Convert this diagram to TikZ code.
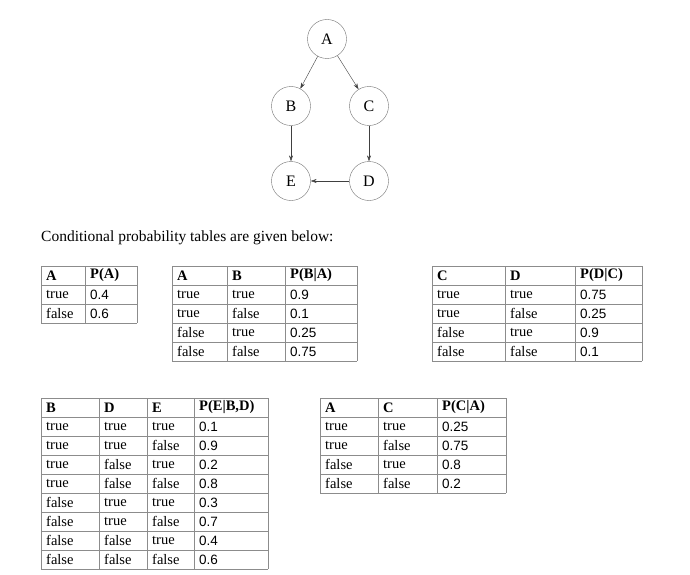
\documentclass[tikz,border=0pt]{standalone}
\usepackage{fontspec}
\setmainfont{Liberation Serif}
\setsansfont{Liberation Sans}
\usetikzlibrary{arrows.meta}
\tikzset{
 bn/.style={circle,draw=black!55,minimum size=39pt,inner sep=0pt,font=\fontsize{16}{18}\selectfont\rmfamily},
 edge/.style={draw=black!75,-{Stealth[length=6pt,width=4pt]}},
 cell/.style={anchor=west,inner sep=0pt},
 grid/.style={draw=black!45,line width=0.8pt},
}
\newcommand\cpt[5]{%
 \foreach \row [count=\r] in {#5}{
  \foreach \cell [count=\c] in \row {
   \pgfmathsetmacro\xx{{#2}[\c-1]}
   \pgfmathsetmacro\yy{#3+(\r-1)*19+9.5}
   \ifnum\r=1 \def\ff{\fontsize{14.5}{16}\selectfont\bfseries\rmfamily}\else\ifnum\c=#4 \def\ff{\fontsize{13.5}{16}\selectfont\sffamily}\else\def\ff{\fontsize{14.5}{16}\selectfont\rmfamily}\fi\fi
   \node[cell] (#1-\r-\c) at (\xx+5,\yy) {\ff\cell};
 }}}
\begin{document}
\begin{tikzpicture}[x=1pt,y=-1pt]
\fill[white] (0,0) rectangle (690,575);
\node[bn] (A) at (327,39) {A};
\node[bn] (B) at (291,106) {B};
\node[bn] (C) at (369,106) {C};
\node[bn] (E) at (291,181) {E};
\node[bn] (D) at (369,181) {D};
\draw[edge] (A) -- (B);
\draw[edge] (A) -- (C);
\draw[edge] (B) -- (E);
\draw[edge] (C) -- (D);
\draw[edge] (D) -- (E);
\node[anchor=west,inner sep=0pt,font=\fontsize{15.5}{17}\selectfont\rmfamily] (cap) at (41,238) {Conditional probability tables are given below:};
% table 1
\foreach \x in {41,85,137} \draw[grid] (\x,266) -- (\x,323);
\foreach \y in {266,285,304,323} \draw[grid] (41,\y) -- (137,\y);
\cpt{ta}{41,85,137}{266}{2}{{A,{P(A)}},{true,0.4},{false,0.6}}
% table 2
\foreach \x in {172,227,285,357} \draw[grid] (\x,266) -- (\x,361);
\foreach \y in {266,285,304,323,342,361} \draw[grid] (172,\y) -- (357,\y);
\cpt{tb}{172,227,285}{266}{3}{{A,B,{P(B|A)}},{true,true,0.9},{true,false,0.1},{false,true,0.25},{false,false,0.75}}
% table 3
\foreach \x in {432,505,575,642} \draw[grid] (\x,266) -- (\x,361);
\foreach \y in {266,285,304,323,342,361} \draw[grid] (432,\y) -- (642,\y);
\cpt{td}{432,505,575}{266}{3}{{C,D,{P(D|C)}},{true,true,0.75},{true,false,0.25},{false,true,0.9},{false,false,0.1}}
% table 4
\foreach \x in {41,99,147,194,268} \draw[grid] (\x,398) -- (\x,569);
\foreach \k in {0,...,9} \draw[grid] (41,398+\k*19) -- (268,398+\k*19);
\cpt{te}{41,99,147,194}{398}{4}{{B,D,E,{P(E|B,D)}},{true,true,true,0.1},{true,true,false,0.9},{true,false,true,0.2},{true,false,false,0.8},{false,true,true,0.3},{false,true,false,0.7},{false,false,true,0.4},{false,false,false,0.6}}
% table 5
\foreach \x in {320,378,437,506} \draw[grid] (\x,398) -- (\x,493);
\foreach \k in {0,...,5} \draw[grid] (320,398+\k*19) -- (506,398+\k*19);
\cpt{tc}{320,378,437}{398}{3}{{A,C,{P(C|A)}},{true,true,0.25},{true,false,0.75},{false,true,0.8},{false,false,0.2}}
\end{tikzpicture}
\end{document}
